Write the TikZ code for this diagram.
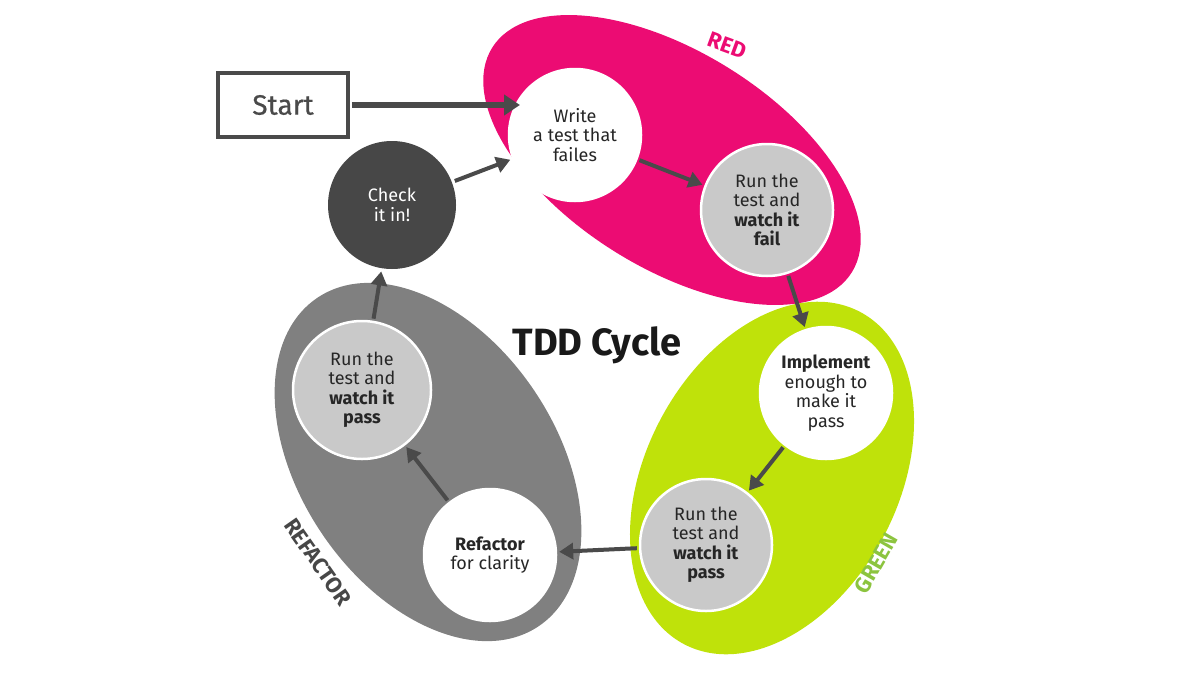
\documentclass[tikz,border=0pt]{standalone}
\usepackage{fontspec}
\setmainfont{Fira Sans}
\usetikzlibrary{arrows.meta}
\definecolor{mag}{HTML}{EC0C73}
\definecolor{lime}{HTML}{BFE20A}
\definecolor{gr}{HTML}{808080}
\definecolor{lg}{HTML}{C9C9C9}
\definecolor{dk}{HTML}{474747}
\definecolor{ln}{HTML}{4A4A4A}
\definecolor{gtxt}{HTML}{8CC43F}
\begin{document}
\begin{tikzpicture}[x=1pt,y=-1pt,
 st/.style={circle,draw=white,line width=2.5pt,minimum size=132pt,inner sep=0pt,align=center,font=\fontsize{18}{19.5}\selectfont,text=black!85},
 wh/.style={st,fill=white},
 gy/.style={st,fill=lg},
 ar/.style={draw=ln,line width=4pt,-{Triangle[length=14pt,width=16pt]},shorten >=2pt,shorten <=2pt}]
\useasboundingbox (0,0) rectangle (1190,680);
\fill[mag,rotate around={-32:(672,160)}] (672,160) ellipse[x radius=212,y radius=108];
\fill[lime,rotate around={62:(772,478)}] (772,478) ellipse[x radius=188,y radius=126];
\fill[gr,rotate around={-56:(428,462)}] (428,462) ellipse[x radius=198,y radius=128];
\node[draw=ln,line width=3.5pt,minimum width=130pt,minimum height=64pt,font=\fontsize{28}{30}\selectfont\addfontfeature{FakeBold=0.6},text=ln] (start) at (283,105) {Start};
\node[wh] (w) at (575,135) {Write\\a test that\\failes};
\node[gy] (rf) at (767,210) {Run the\\test and\\\textbf{watch it}\\\textbf{fail}};
\node[wh] (im) at (826,393) {\textbf{Implement}\\enough to\\make it\\pass};
\node[gy] (rg) at (706,545) {Run the\\test and\\\textbf{watch it}\\\textbf{pass}};
\node[wh] (rc) at (490,555) {\textbf{Refactor}\\for clarity};
\node[gy,minimum size=138pt] (rr) at (362,390) {Run the\\test and\\\textbf{watch it}\\\textbf{pass}};
\node[st,fill=dk,text=white,draw=none,minimum size=128pt] (ck) at (392,205) {Check\\it in!};
\coordinate (sa) at (522,105);
\draw[ar,line width=6pt,-{Triangle[length=16pt,width=20pt]}] (start.east) -- (sa);
\draw[ar] (ck) -- (w);
\draw[ar] (w) -- (rf);
\draw[ar] (rf) -- (im);
\draw[ar] (im) -- (rg);
\draw[ar] (rg) -- (rc);
\draw[ar] (rc) -- (rr);
\draw[ar] (rr) -- (ck);
\node[font=\bfseries\fontsize{38}{40}\selectfont,text=black!90] (t) at (597,345) {TDD Cycle};
\node[font=\bfseries\fontsize{22}{24}\selectfont,text=mag,rotate=-20] (red) at (727,45) {RED};
\node[font=\bfseries\fontsize{22}{24}\selectfont,text=gtxt,rotate=60] (green) at (876,563) {GREEN};
\node[font=\bfseries\fontsize{22}{24}\selectfont,text=dk,rotate=-55] (ref) at (318,562) {REFACTOR};
\end{tikzpicture}
\end{document}
